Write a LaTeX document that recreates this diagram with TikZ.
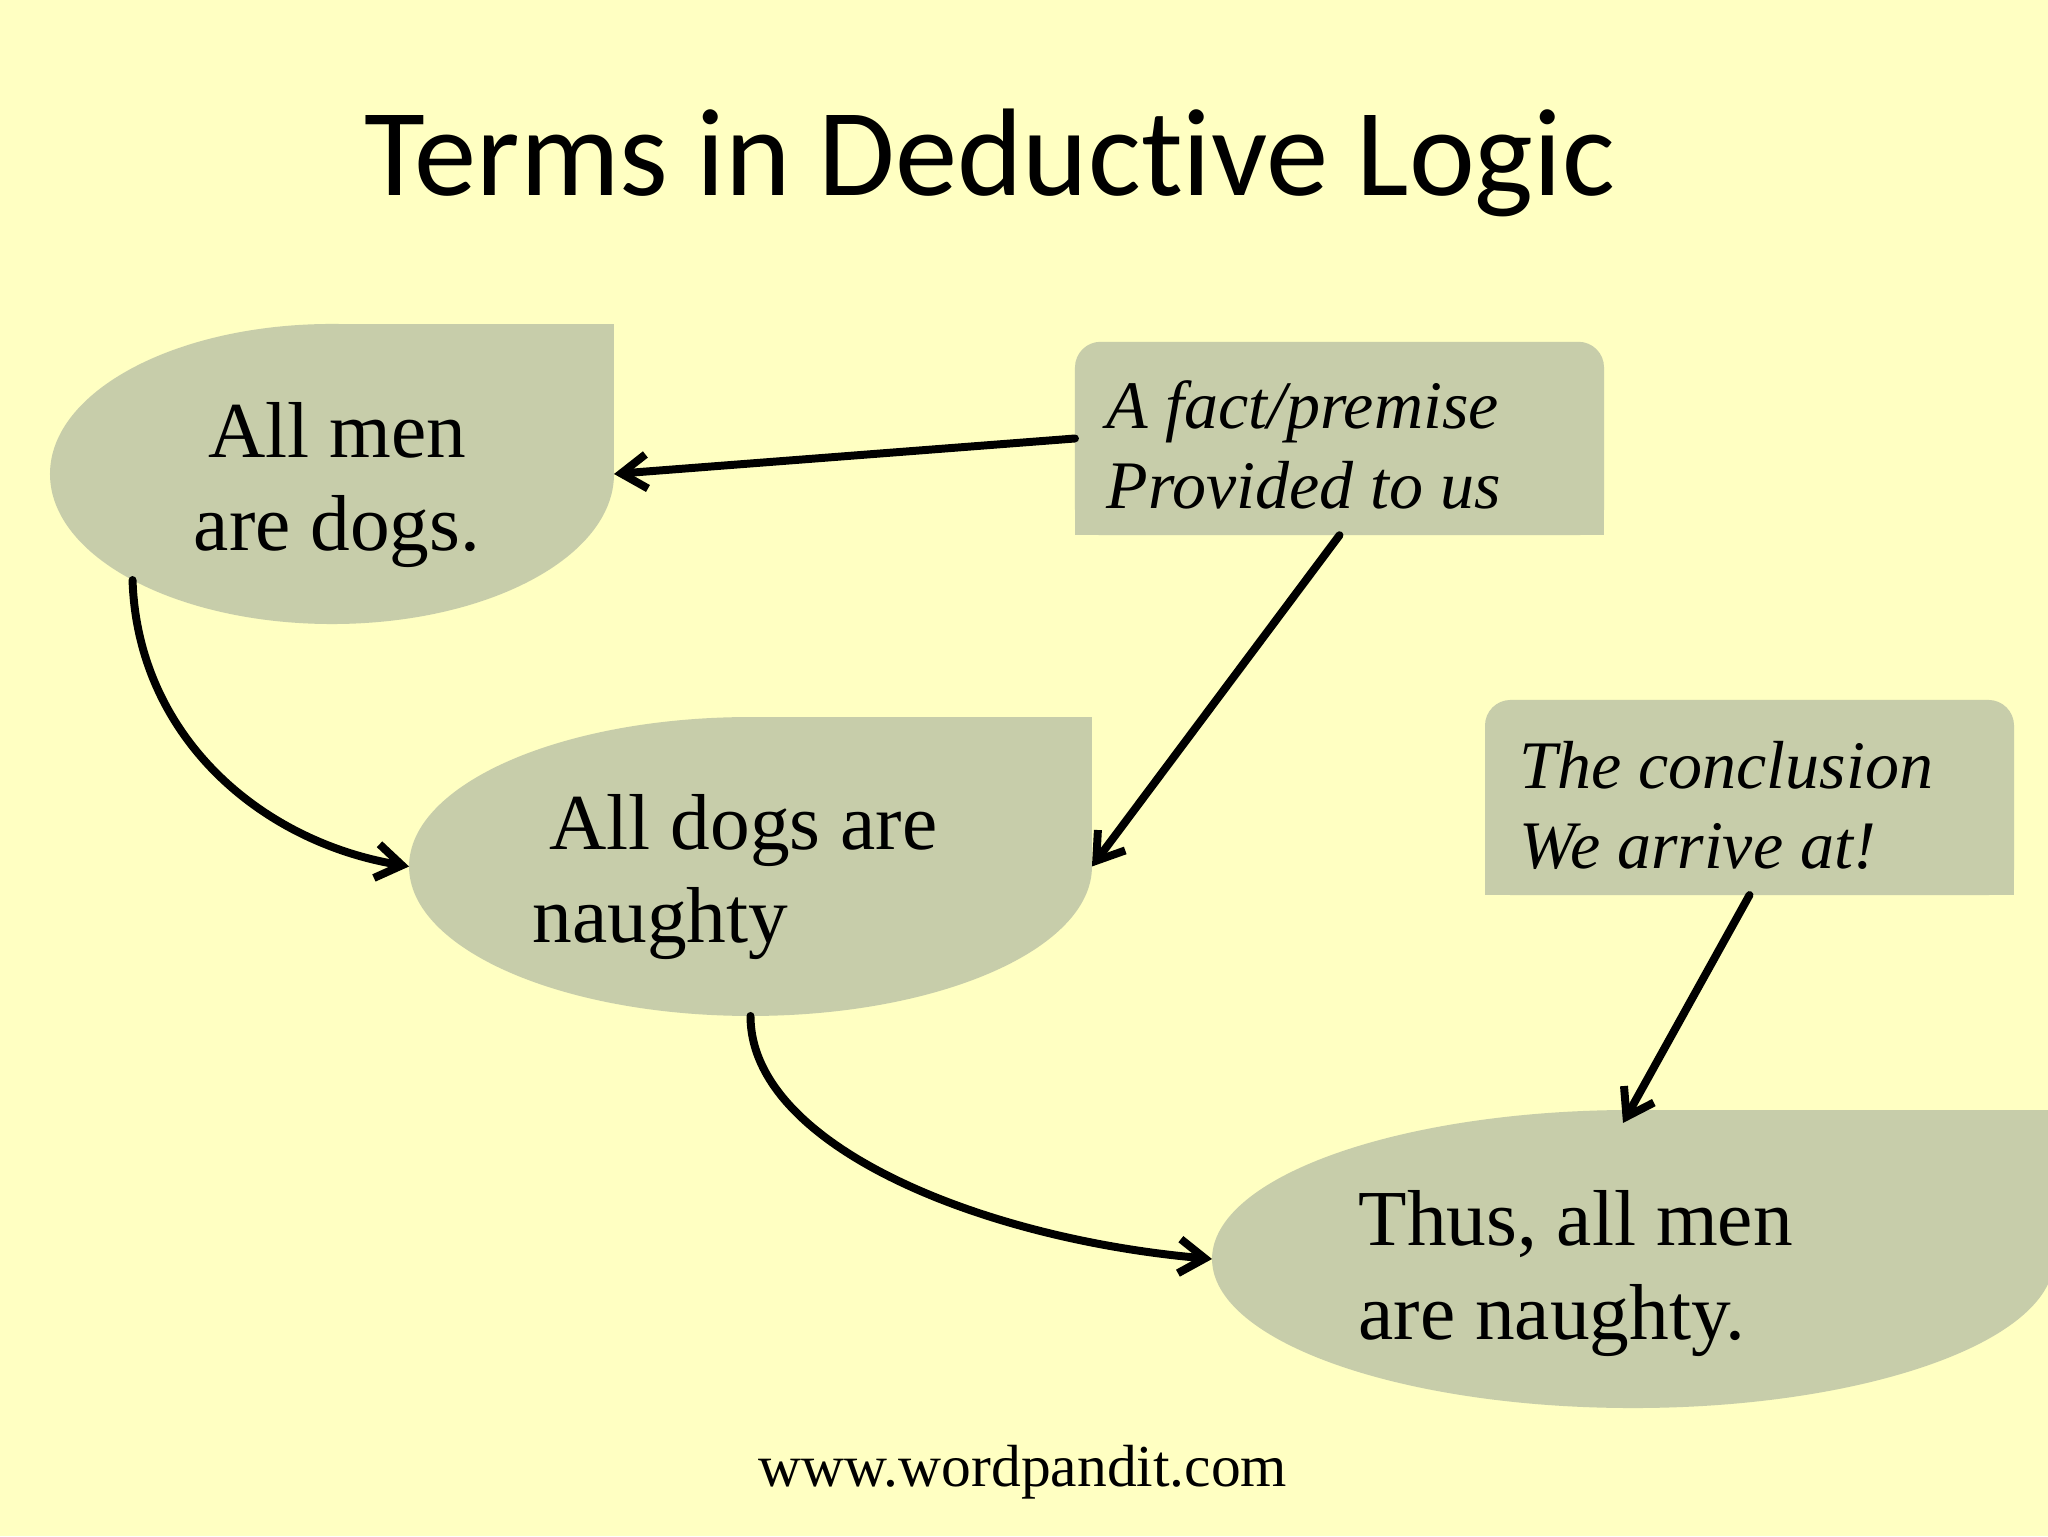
\documentclass[tikz,border=0pt]{standalone}
\usepackage{fontspec}
\setmainfont{Liberation Serif}
\newfontfamily\titlefont[Ligatures={NoCommon}]{Carlito}
\usetikzlibrary{shapes.geometric, arrows.meta}

\definecolor{slidebg}{RGB}{255,255,194}
\definecolor{blobfill}{RGB}{199,205,170}

\begin{document}
\begin{tikzpicture}[x=0.3516bp, y=0.3516bp,
  blob/.style={ellipse, fill=blobfill, inner sep=0pt, outer sep=0pt},
  callout/.style={rectangle, rounded corners=9bp, fill=blobfill, inner sep=0pt,
    outer sep=0pt, minimum width=186bp, minimum height=68bp},
  bigtext/.style={font=\fontsize{28}{33}\selectfont, align=left, inner sep=0pt},
  smalltext/.style={font=\itshape\fontsize{24}{28.5}\selectfont, align=left, inner sep=0pt},
  arr/.style={line width=2.8bp, -{Straight Barb[length=9bp, width=12bp]}, line cap=round}
]
% The slide
\path[use as bounding box, clip] (0,0) rectangle (2048,1536);
\fill[slidebg] (0,0) rectangle (2048,1536);

% The title and the footer
\node (title) [anchor=base, font=\titlefont\fontsize{44}{53}\selectfont] at (990,1340) {Terms in Deductive Logic};
\node (site) [anchor=base, font=\fontsize{21}{25}\selectfont] at (1023,50) {www.wordpandit.com};

% The shapes
\node (men) [blob, minimum width=198.3bp, minimum height=105.5bp] at (332,1062) {};
\node (fact) [callout] at (1339.5,1097.5) {};
\node (dogs) [blob, minimum width=240.1bp, minimum height=105.1bp] at (750.5,669.5) {};
\node (concl) [callout, minimum height=68.6bp] at (1749.5,738.5) {};
\node (thus) [blob, minimum width=296bp, minimum height=104.8bp] at (1633,277) {};

% Square corners
\foreach \n in {men,dogs,thus}
  \fill[blobfill] (\n.center) rectangle (\n.east |- \n.north);
\foreach \n in {fact,concl}
  \fill[blobfill] (\n.west) rectangle (\n.south east);

% The texts (base = last line)
\node (mentext) [bigtext, align=center, anchor=base] at (337,985) {All men\\are dogs.};
\node (facttext) [smalltext, anchor=base west] at (1106,1027) {A fact/premise\\Provided to us};
\node (dogstext) [bigtext, anchor=base west] at (532,593) {\hspace*{6bp}All dogs are\\naughty};
\node (concltext) [smalltext, anchor=base west] at (1519,667) {The conclusion\\We arrive at!};
\node (thustext) [bigtext, anchor=base west] at (1358,197) {Thus, all men\\are naughty.};

% The arrows
\draw[arr] (fact.west) -- (men.east);
\draw[arr] (fact.south) -- (dogs.east);
\draw[arr] (men.208) .. controls +(5,-155) and +(-150,25) .. (dogs.west);
\draw[arr] (dogs.south) .. controls +(0,-130) and +(-230,20) .. (thus.west);
\draw[arr] (concl.south) -- ([shift={(-10,-13)}]thus.north);
\end{tikzpicture}
\end{document}
